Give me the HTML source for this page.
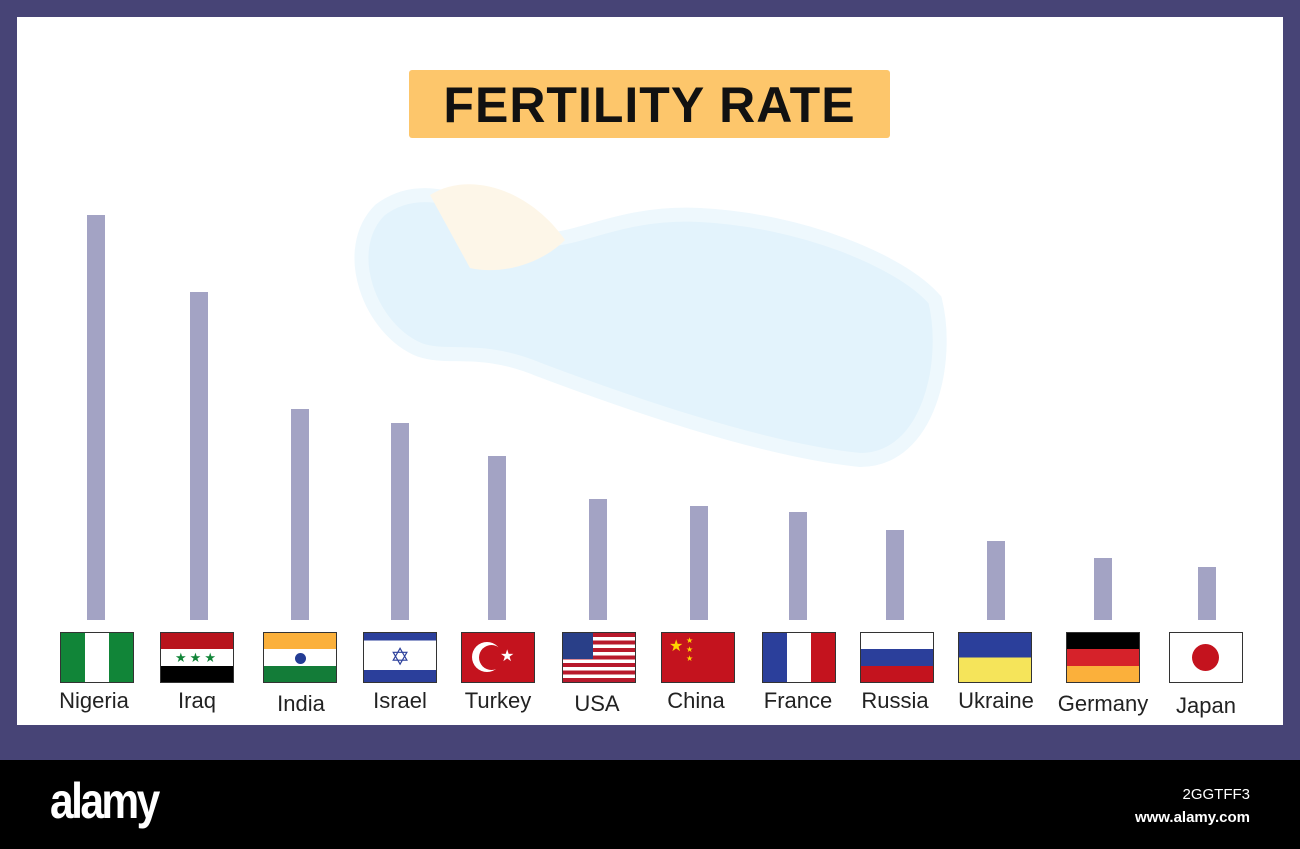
<!DOCTYPE html>
<html><head><meta charset="utf-8"><style>
body{margin:0;width:1300px;height:849px;overflow:hidden;background:#000;font-family:"Liberation Sans",sans-serif}
.frame{position:absolute;left:0;top:0;width:1300px;height:760px;background:#474476}
.in{position:absolute;left:17px;top:17px;width:1266px;height:708px;background:#fff}
.title{position:absolute;left:409px;top:70px;width:481px;height:68px;background:#fdc66b;border-radius:3px;text-align:center;line-height:70px;font-size:50px;font-weight:bold;letter-spacing:1px;color:#111}
.bar{position:absolute;width:18px;background:#a3a3c4;bottom:229px}
.lab{position:absolute;top:688px;width:120px;text-align:center;font-size:22px;color:#222}
.flag{position:absolute;top:632px;width:72px;height:49px;border:1px solid #333}
</style></head><body>
<div class="frame"></div>
<div class="in"></div>
<svg style="position:absolute;left:0;top:0" width="1300" height="760">
<path d="M380 210 C420 180 470 200 510 230 C560 260 600 210 700 215 C800 220 900 260 935 300 C950 360 930 460 860 460 C760 450 620 400 540 370 C480 345 450 360 420 350 C370 330 340 250 380 210Z" fill="#e3f3fc" stroke="#eef8fd" stroke-width="14"/>
<path d="M430 195 C470 170 530 190 565 240 C540 265 500 275 470 268 Z" fill="#fdf6e8"/>
</svg>
<div class="title">FERTILITY RATE</div>
<div class="bar" style="left:87px;height:405px"></div>
<div class="bar" style="left:190px;height:328px"></div>
<div class="bar" style="left:291px;height:211px"></div>
<div class="bar" style="left:391px;height:197px"></div>
<div class="bar" style="left:488px;height:164px"></div>
<div class="bar" style="left:589px;height:121px"></div>
<div class="bar" style="left:690px;height:114px"></div>
<div class="bar" style="left:789px;height:108px"></div>
<div class="bar" style="left:886px;height:90px"></div>
<div class="bar" style="left:987px;height:79px"></div>
<div class="bar" style="left:1094px;height:62px"></div>
<div class="bar" style="left:1198px;height:53px"></div>

<div class="flag" style="left:60px;background:linear-gradient(90deg,#118538 33%,#fff 33%,#fff 67%,#118538 67%)"></div>
<div class="flag" style="left:160px;background:linear-gradient(#b8141c 33%,#fff 33%,#fff 67%,#000 67%)"><div style="text-align:center;color:#118538;font-size:13px;line-height:49px;letter-spacing:3px">★★★</div></div>
<div class="flag" style="left:263px;background:linear-gradient(#fbb03b 33%,#fff 33%,#fff 67%,#137c38 67%)"><div style="position:absolute;left:31px;top:20px;width:11px;height:11px;border-radius:50%;background:#233c94"></div></div>
<div class="flag" style="left:363px;background:linear-gradient(#2b3f9b 0,#2b3f9b 15%,#fff 15%,#fff 76%,#2b3f9b 76%)"><div style="text-align:center;color:#2b3f9b;font-size:24px;line-height:49px">✡</div></div>
<div class="flag" style="left:461px;background:#c4131e"><div style="position:absolute;left:10px;top:9px;width:30px;height:30px;border-radius:50%;background:#fff"></div><div style="position:absolute;left:17px;top:12px;width:25px;height:25px;border-radius:50%;background:#c4131e"></div><div style="position:absolute;left:38px;top:13px;color:#fff;font-size:16px">★</div></div>
<div class="flag" style="left:562px;background:repeating-linear-gradient(#b8192c 0,#b8192c 3.77px,#fff 3.77px,#fff 7.54px)"><div style="position:absolute;left:0;top:0;width:30px;height:26px;background:#293f88"></div></div>
<div class="flag" style="left:661px;background:#c4131e"><div style="position:absolute;left:7px;top:3px;color:#ffd500;font-size:16px">★</div><div style="position:absolute;left:24px;top:3px;color:#ffd500;font-size:8px;line-height:9px">★<br>★<br>★</div></div>
<div class="flag" style="left:762px;background:linear-gradient(90deg,#2b3f9b 33%,#fff 33%,#fff 67%,#c4131e 67%)"></div>
<div class="flag" style="left:860px;background:linear-gradient(#fff 33%,#2b3f9b 33%,#2b3f9b 67%,#c4131e 67%)"></div>
<div class="flag" style="left:958px;background:linear-gradient(#2b3f9b 50%,#f5e45a 50%)"></div>
<div class="flag" style="left:1066px;background:linear-gradient(#000 33%,#d6222a 33%,#d6222a 67%,#fbb03b 67%)"></div>
<div class="flag" style="left:1169px;background:#fff"><div style="position:absolute;left:22px;top:11px;width:27px;height:27px;border-radius:50%;background:#c4131e"></div></div>

<div class="lab" style="left:34px">Nigeria</div>
<div class="lab" style="left:137px">Iraq</div>
<div class="lab" style="left:241px;top:691px">India</div>
<div class="lab" style="left:340px">Israel</div>
<div class="lab" style="left:438px">Turkey</div>
<div class="lab" style="left:537px;top:691px">USA</div>
<div class="lab" style="left:636px">China</div>
<div class="lab" style="left:738px">France</div>
<div class="lab" style="left:835px">Russia</div>
<div class="lab" style="left:936px">Ukraine</div>
<div class="lab" style="left:1043px;top:691px">Germany</div>
<div class="lab" style="left:1146px;top:693px">Japan</div>

<div style="position:absolute;left:50px;top:772px;color:#fff;font-size:50px;font-weight:bold;letter-spacing:-3px;transform:scaleX(0.85);transform-origin:left">alamy</div>
<div style="position:absolute;right:50px;top:783px;color:#fff;font-size:15px;text-align:right;line-height:23px">2GGTFF3<br><b>www.alamy.com</b></div>
</body></html>
